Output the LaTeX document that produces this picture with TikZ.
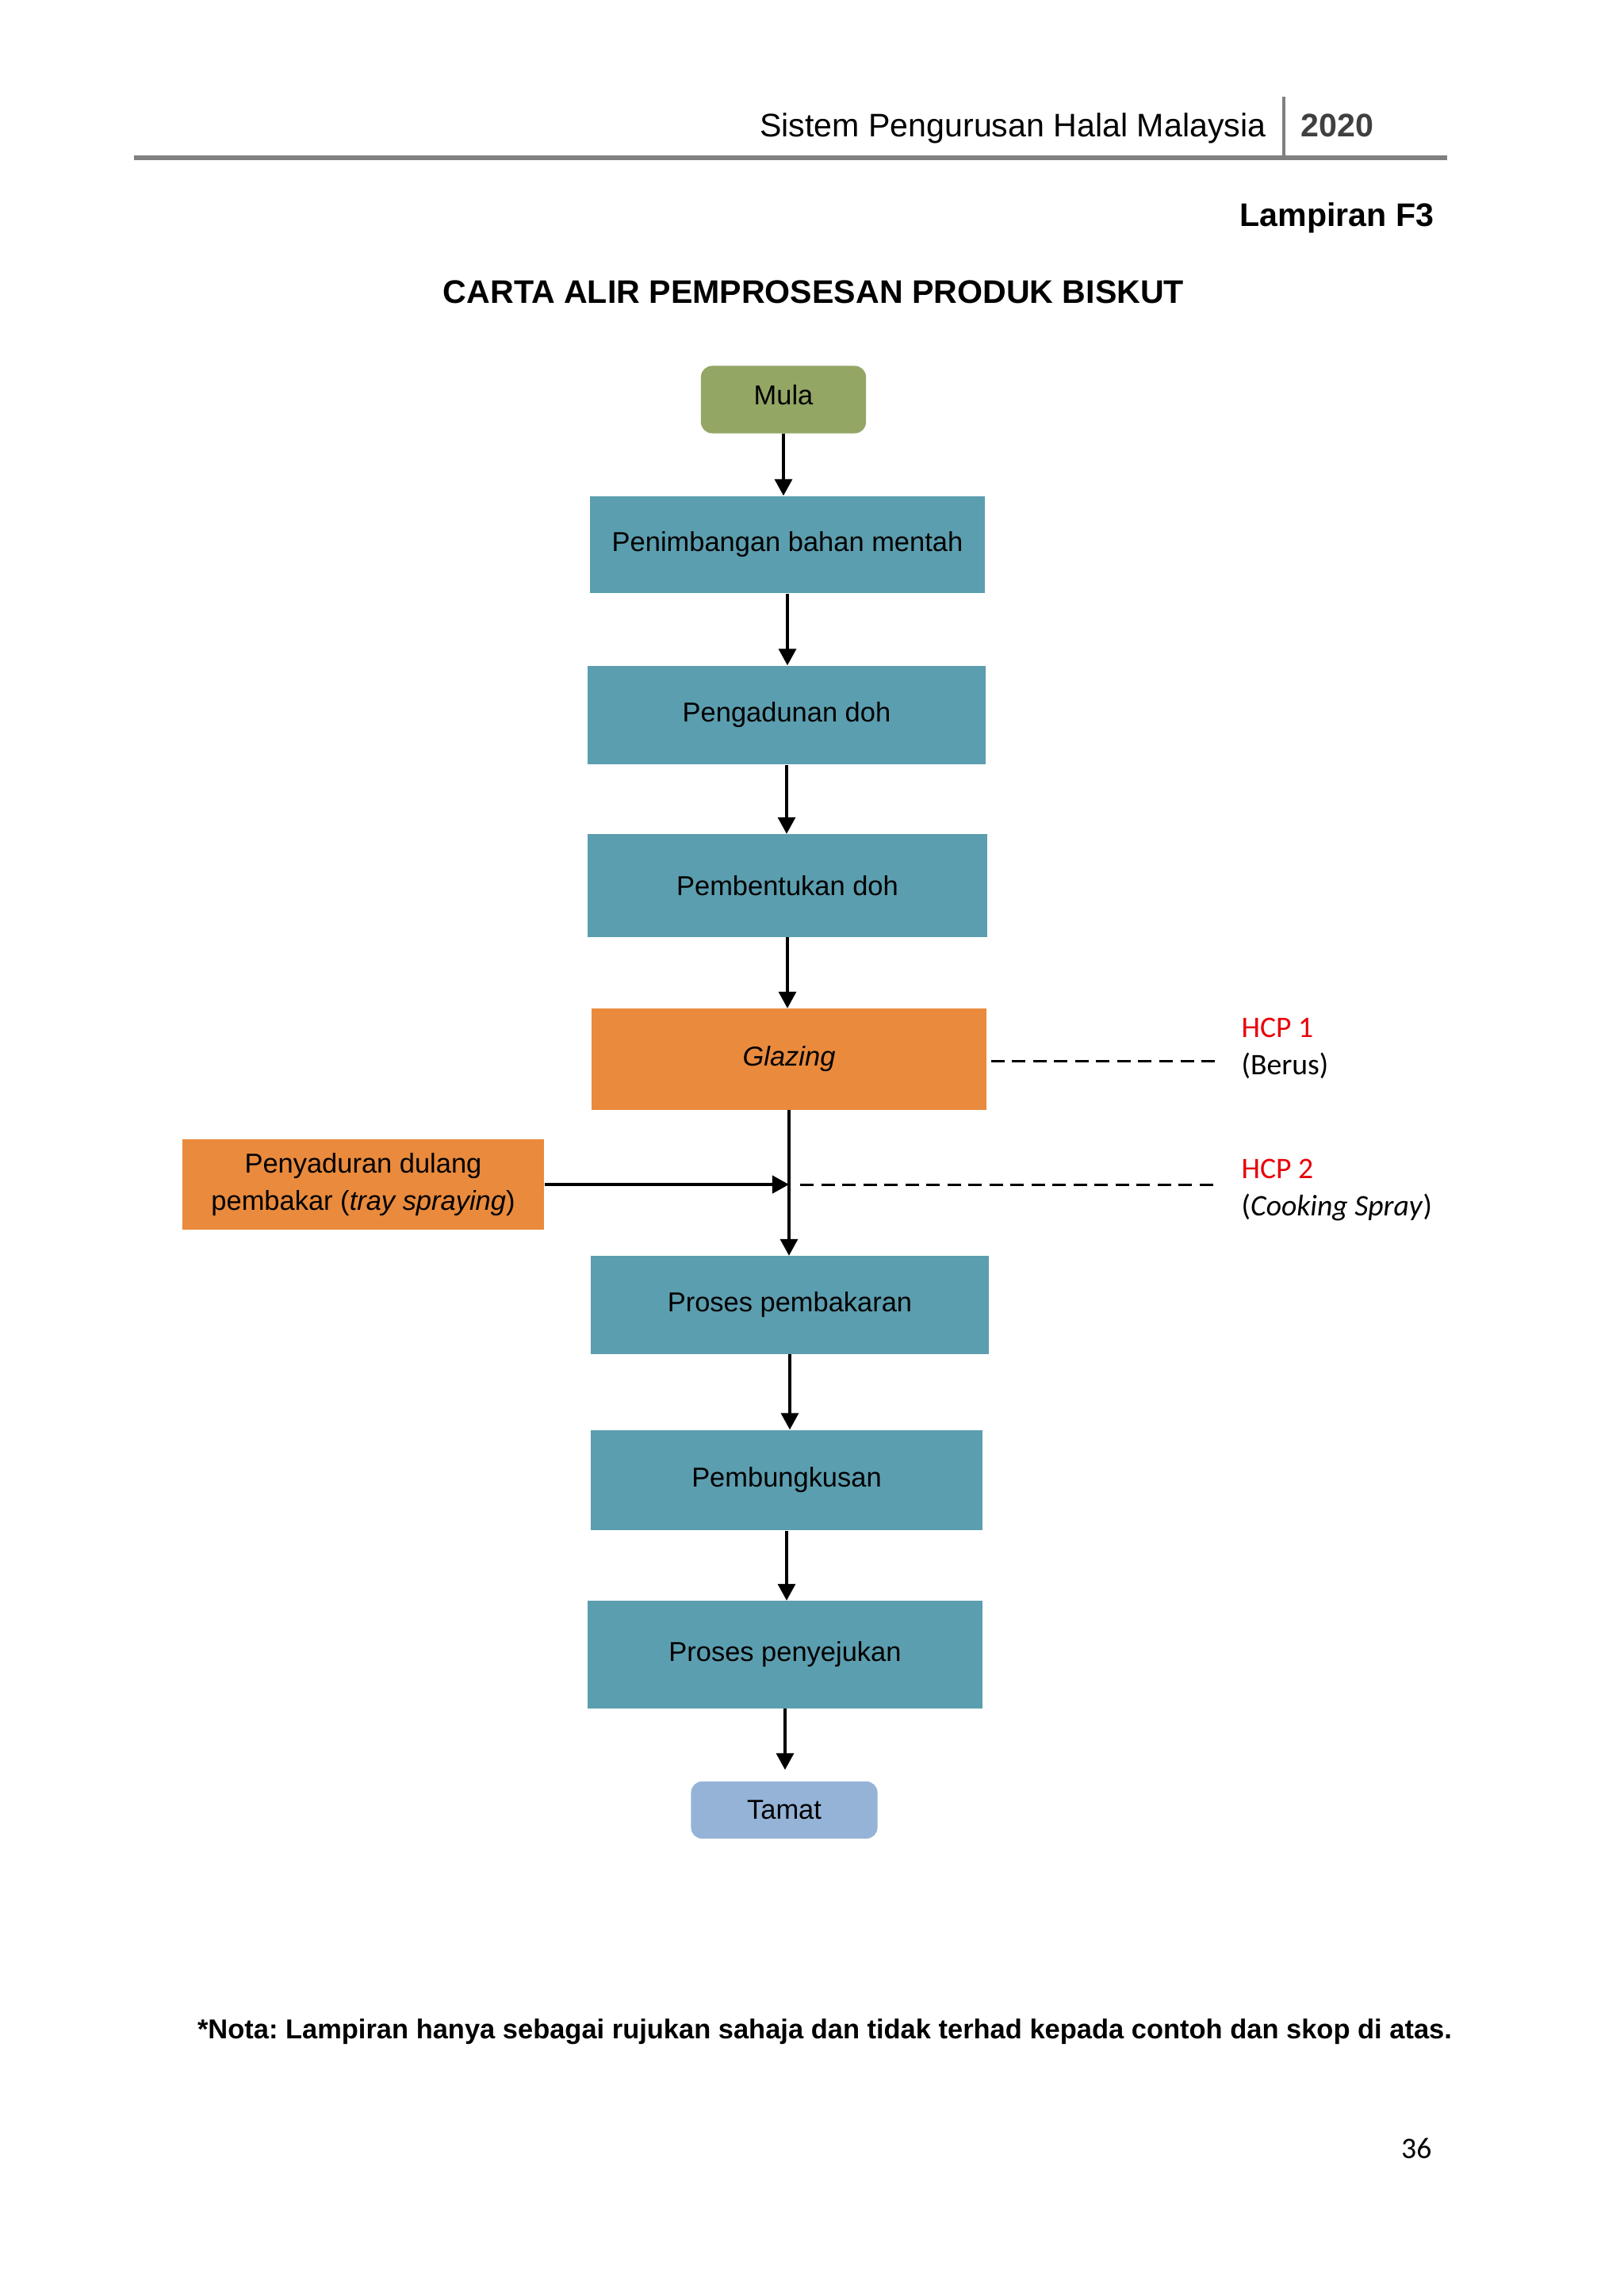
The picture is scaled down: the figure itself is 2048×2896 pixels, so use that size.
\documentclass[tikz,border=0pt]{standalone}
\usepackage{fontspec}
\setmainfont{Liberation Sans}
\newfontfamily\calibfont{Carlito}
\usetikzlibrary{arrows.meta}
\frenchspacing
\definecolor{bskTeal}{HTML}{5B9EAF}
\definecolor{bskOrange}{HTML}{E98A3D}
\definecolor{bskOlive}{HTML}{94A664}
\definecolor{bskBlue}{HTML}{95B3D7}
\definecolor{bskRed}{HTML}{E8000B}
\definecolor{bskGray}{HTML}{808080}
\definecolor{bskDark}{HTML}{404040}
\tikzset{
  bsk box/.style={rectangle, fill=bskTeal, inner sep=0pt, font=\fontsize{9.8}{13.3}\selectfont, align=center},
  bsk hcp box/.style={bsk box, fill=bskOrange},
  bsk term/.style={bsk box, rounded corners=0.14cm},
  bsk arrow/.style={draw=black, line width=0.035cm, -{Triangle[length=0.21cm,width=0.22cm]}},
  bsk dash/.style={draw=black, line width=0.03cm, dash pattern=on 0.17cm off 0.095cm},
  bsk hcp/.style={font=\calibfont\fontsize{10.7}{12}\selectfont, text=bskRed, inner sep=0pt},
  bsk note/.style={bsk hcp, text=black},
  bsk head/.style={font=\fontsize{11.7}{14}\selectfont, inner sep=0pt},
}
\begin{document}
\begin{tikzpicture}[x=0.01cm,y=-0.01cm]
  % page
  \fill[white] (0,0) rectangle (2048,2896);
  \useasboundingbox (0,0) rectangle (2048,2896);
  % running header
  \node[bsk head, anchor=base east] (hdr) at (1597,172) {Sistem Pengurusan Halal Malaysia};
  \node[bsk head, anchor=base west, text=bskDark, font=\fontsize{11.7}{14}\selectfont\bfseries] (year) at (1640,172) {2020};
  \draw[draw=bskGray, line width=0.06cm] (169,199) -- (1825,199);
  \draw[draw=bskGray, line width=0.04cm] (1619,122) -- (1619,196);
  \node[bsk head, anchor=base east, font=\fontsize{11.7}{14}\selectfont\bfseries] (lamp) at (1809,285) {Lampiran F3};
  \node[bsk head, anchor=base, font=\fontsize{11.7}{14}\selectfont\bfseries] (title) at (1026,382) {CARTA ALIR PEMPROSESAN PRODUK BISKUT};

  % flow boxes
  \node[bsk term, fill=bskOlive, minimum width=2.08cm, minimum height=0.85cm, text depth=0.12cm] (mula) at (988,504) {Mula};
  \node[bsk box, minimum width=4.97cm, minimum height=1.22cm] (timbang) at (993,687) {Penimbangan bahan mentah};
  \node[bsk box, minimum width=5.01cm, minimum height=1.24cm] (adun) at (992,902) {Pengadunan doh};
  \node[bsk box, minimum width=5.03cm, minimum height=1.29cm] (bentuk) at (993,1117) {Pembentukan doh};
  \node[bsk hcp box, minimum width=4.98cm, minimum height=1.27cm] (glaze) at (995,1336) {\itshape Glazing};
  \node[bsk hcp box, minimum width=4.56cm, minimum height=1.14cm] (sadur) at (458,1494) {Penyaduran dulang\\pembakar (\textit{tray spraying})};
  \node[bsk box, minimum width=5.01cm, minimum height=1.23cm] (bakar) at (996,1646) {Proses pembakaran};
  \node[bsk box, minimum width=4.93cm, minimum height=1.26cm] (bungkus) at (992,1867) {Pembungkusan};
  \node[bsk box, minimum width=4.97cm, minimum height=1.35cm] (sejuk) at (990,2087) {Proses penyejukan};
  \node[bsk term, fill=bskBlue, minimum width=2.35cm, minimum height=0.72cm] (tamat) at (989,2283) {Tamat};

  % connectors
  \draw[bsk arrow] (mula.south) -- (mula.south |- timbang.north);
  \foreach \a/\b in {timbang/adun, adun/bentuk, bentuk/glaze, glaze/bakar, bakar/bungkus, bungkus/sejuk}
    \draw[bsk arrow] (\a.south) -- (\a.south |- \b.north);
  \draw[bsk arrow, shorten >=0.14cm] (sejuk.south) -- (sejuk.south |- tamat.north);
  \coordinate (join) at (glaze.south |- sadur.east);
  \draw[bsk arrow, line width=0.04cm] (sadur.east) -- (join);

  % halal control points
  \node[bsk hcp, anchor=base west] (hcpA) at (1565,1308) {HCP 1};
  \node[bsk note, anchor=base west] (hcpAnote) at (1565,1355) {(Berus)};
  \node[bsk hcp, anchor=base west] (hcpB) at (1565,1486) {HCP 2};
  \node[bsk note, anchor=base west] (hcpBnote) at (1565,1533) {(\textit{Cooking Spray})};
  \coordinate (hcpAend) at (1538,1338);
  \coordinate (hcpBend) at (1538,1494);
  \draw[bsk dash] ([xshift=0.05cm]glaze.east |- hcpAend) -- (hcpAend);
  \draw[bsk dash] ([xshift=0.14cm]join) -- (hcpBend);

  % footer
  \node[anchor=base, inner sep=0pt, font=\fontsize{9.8}{12}\selectfont\bfseries] (nota) at (1040,2571) {*Nota: Lampiran hanya sebagai rujukan sahaja dan tidak terhad kepada contoh dan skop di atas.};
  \node[bsk note, anchor=base east] (page) at (1806,2722) {36};
\end{tikzpicture}
\end{document}
